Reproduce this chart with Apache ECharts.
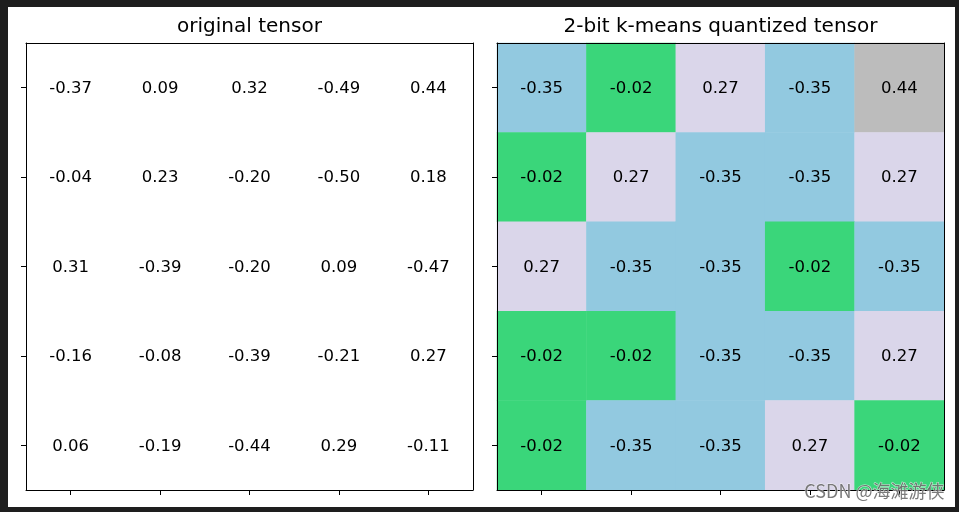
<!DOCTYPE html>
<html>
<head>
<meta charset="utf-8">
<script src="https://cdn.jsdelivr.net/npm/echarts@6/dist/echarts.min.js"></script>
<style>
html,body{margin:0;padding:0;background:#1e1e1e;width:959px;height:512px;overflow:hidden;}
#c{position:absolute;left:8px;top:7px;width:947px;height:500px;background:#fff;}
</style>
</head>
<body>
<div id="c"></div>
<script>
// rows from top to bottom
const originalRows = [
  [-0.37, 0.09, 0.32, -0.49, 0.44],
  [-0.04, 0.23, -0.20, -0.50, 0.18],
  [0.31, -0.39, -0.20, 0.09, -0.47],
  [-0.16, -0.08, -0.39, -0.21, 0.27],
  [0.06, -0.19, -0.44, 0.29, -0.11]
];
const quantizedRows = [
  [-0.35, -0.02, 0.27, -0.35, 0.44],
  [-0.02, 0.27, -0.35, -0.35, 0.27],
  [0.27, -0.35, -0.35, -0.02, -0.35],
  [-0.02, -0.02, -0.35, -0.35, 0.27],
  [-0.02, -0.35, -0.35, 0.27, -0.02]
];
const centroids = [-0.35, -0.02, 0.27, 0.44];
const centroidColors = ['#92c9e0', '#3ad67a', '#dad6ea', '#bcbcbc'];
const cols = ['0','1','2','3','4'];
const rows = ['0','1','2','3','4'];
const titles = ['original tensor', '2-bit k-means quantized tensor'];

function toData(m){
  const out=[];
  m.forEach((r,i)=>r.forEach((v,j)=>out.push([j,i,v])));
  return out;
}
const chart = echarts.init(document.getElementById('c'));
const gridW = 447, gridH = 447, gridTop = 36;
const lefts = [18, 489];
const font = 'DejaVu Sans';
function axisX(g, pos, ticks){
  return {type:'category', gridIndex:g, data:cols, position:pos, z:10,
    axisLine:{show:true, onZero:false, lineStyle:{color:'#000',width:1}},
    axisTick:{show:ticks, alignWithLabel:true, length:5, lineStyle:{color:'#000'}},
    axisLabel:{show:false}, splitLine:{show:false}};
}
function axisY(g, pos, ticks){
  return {type:'category', gridIndex:g, data:rows, inverse:true, position:pos, z:10,
    axisLine:{show:true, onZero:false, lineStyle:{color:'#000',width:1}},
    axisTick:{show:ticks, alignWithLabel:true, length:5, lineStyle:{color:'#000'}},
    axisLabel:{show:false}, splitLine:{show:false}};
}
const fmt = p => p.value[2].toFixed(2);
chart.setOption({
  animation:false,
  backgroundColor:'#fff',
  title: titles.map((t,i)=>({text:t, left: lefts[i]+gridW/2, top:10, textAlign:'center', padding:0,
    textStyle:{fontFamily:font, fontSize:20, fontWeight:'normal', color:'#000'}})),
  grid: lefts.map(l=>({left:l, top:gridTop, width:gridW, height:gridH})),
  xAxis:[axisX(0,'bottom',true), axisX(1,'bottom',true), axisX(0,'top',false), axisX(1,'top',false)],
  yAxis:[axisY(0,'left',true), axisY(1,'left',true), axisY(0,'right',false), axisY(1,'right',false)],
  visualMap:[{type:'piecewise', show:false, seriesIndex:1, dimension:2,
    pieces: centroids.map((c,i)=>({min:c-0.005, max:c+0.005, color:centroidColors[i]}))}],
  series:[
    {type:'heatmap', xAxisIndex:0, yAxisIndex:0, data:toData(originalRows),
      itemStyle:{color:'#fff'},
      label:{show:true, formatter:fmt, fontFamily:font, fontSize:16.5, color:'#000', offset:[0,1]}},
    {type:'heatmap', xAxisIndex:1, yAxisIndex:1, data:toData(quantizedRows),
      label:{show:true, formatter:fmt, fontFamily:font, fontSize:16.5, color:'#000', offset:[0,1]}}
  ],
  graphic:[{type:'text', right:10, bottom:6, z:100,
    style:{text:'CSDN @海滩游侠', font:'18px "Noto Sans CJK SC", sans-serif', fill:'rgba(100,100,100,0.85)', stroke:'rgba(255,255,255,0.7)', lineWidth:1}}]
});
</script>
</body>
</html>
